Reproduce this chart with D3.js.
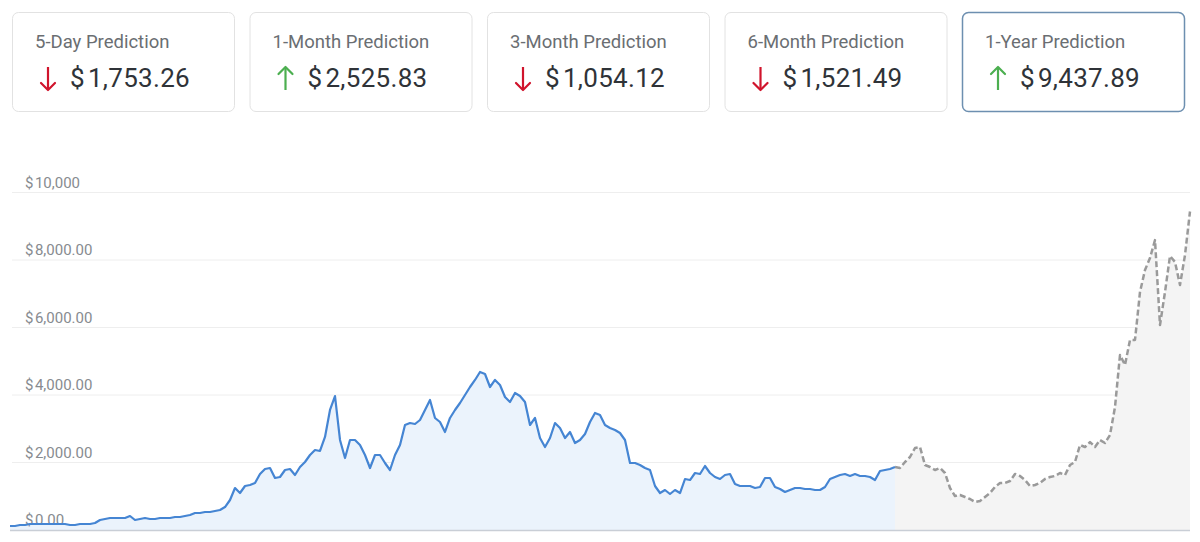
<!DOCTYPE html>
<html>
<head>
<meta charset="utf-8">
<script src="https://cdn.jsdelivr.net/npm/d3@7/dist/d3.min.js"></script>
<style>
  html, body { margin: 0; padding: 0; background: #ffffff; }
  svg { display: block; font-family: Roboto, "Noto Sans", Arial, sans-serif; }
</style>
</head>
<body>
<svg id="chart" width="1200" height="542"></svg>
<script>
// ---- Data ----
const cardTitles = ["5-Day Prediction", "1-Month Prediction", "3-Month Prediction", "6-Month Prediction", "1-Year Prediction"];
const cardValues = ["$1,753.26", "$2,525.83", "$1,054.12", "$1,521.49", "$9,437.89"];
const cardDirections = ["down", "up", "down", "down", "up"];

const tickValues = [10000, 8000, 6000, 4000, 2000, 0];
const tickLabels = ["$10,000", "$8,000.00", "$6,000.00", "$4,000.00", "$2,000.00", "$0.00"];

const history = [
  119,119,148,148,
  178,178,178,178,178,178,178,178,
  148,148,
  178,178,178,
  207,
  296,326,356,356,356,356,
  415,296,326,356,326,326,
  356,356,356,385,385,415,
  444,504,504,533,533,563,
  593,681,889,1244,1096,1304,
  1333,1393,1659,1807,1837,1541,
  1570,1778,1807,1630,1867,2015,
  2222,2370,2341,2756,3556,3970,
  2667,2133,2667,2667,2519,2222,
  1837,2222,2222,1985,1778,2222,
  2519,3111,3170,3141,3259,3556,
  3852,3319,3200,2904,3319,3556,
  3763,4000,4237,4445,4682,4622,
  4237,4445,4296,3941,3793,4059,
  3970,3793,3111,3319,2726,2459,
  2726,3170,3022,2726,2904,2578,
  2667,2844,3200,3467,3407,3111,
  3022,2963,2874,2667,1985,1985,
  1926,1837,1778,1304,1096,1185,
  1067,1185,1096,1511,1481,1689,
  1659,1896,1689,1570,1511,1630,
  1659,1363,1304,1304,1304,1244,
  1274,1541,1541,1274,1215,1126,
  1185,1244,1244,1215,1215,1185,
  1185,1274,1511,1570,1630,1659,
  1600,1659,1600,1600,1570,1481,
  1748,1778,1807,1867
];

const forecast = [
  1837,2015,2163,2430,2459,1926,
  1867,1778,1837,1689,1244,1007,
  1037,978,919,830,859,978,
  1096,1274,1393,1393,1452,1659,
  1600,1481,1304,1333,1393,1511,
  1570,1600,1689,1630,1926,2015,
  2519,2459,2607,2459,2667,2578,
  2815,3644,5185,4889,5630,5630,
  7052,7704,8059,8590,6074,7052,
  8119,7941,7259,8148,9437
];

// ---- Layout ----
const svg = d3.select("#chart");
const plotLeft = 10, plotRight = 1190, plotTop = 192.5, plotBottom = 530;

// Cards
const cardW = 222, cardH = 99, cardTop = 12;
const cardX = d3.scaleLinear().domain([0, 4]).range([12, 962]);
const cards = svg.append("g").selectAll("g").data(cardTitles).join("g")
  .attr("transform", (d, i) => `translate(${cardX(i)},${cardTop})`);

cards.append("rect")
  .attr("x", 0.5).attr("y", 0.5)
  .attr("width", cardW).attr("height", cardH)
  .attr("rx", 6).attr("ry", 6)
  .attr("fill", "#ffffff")
  .attr("stroke", (d, i) => i === 4 ? "#6d8fb0" : "#e2e2e2")
  .attr("stroke-width", (d, i) => i === 4 ? 1.5 : 1);

cards.append("text")
  .attr("x", 23).attr("y", 36)
  .attr("font-size", 18.5).attr("fill", "#6a6e72")
  .text(d => d);

const vt = cards.append("text")
  .attr("x", 58).attr("y", 75)
  .attr("font-size", 26).attr("fill", "#2f3338")
  .attr("letter-spacing", 0.3);
vt.append("tspan").text((d, i) => cardValues[i].slice(0, 1));
vt.append("tspan").attr("dx", 3).text((d, i) => cardValues[i].slice(1));

// Arrows
cards.each(function (d, i) {
  const g = d3.select(this);
  const up = cardDirections[i] === "up";
  const col = up ? "#4caf50" : "#d0142c";
  const ax = 36, top = 55, bot = 78;
  g.append("line").attr("x1", ax).attr("x2", ax).attr("y1", top).attr("y2", bot)
    .attr("stroke", col).attr("stroke-width", 2.2);
  const tip = up ? top : bot;
  const dir = up ? 1 : -1;
  g.append("path")
    .attr("d", `M${ax - 7},${tip + dir * 7} L${ax},${tip} L${ax + 7},${tip + dir * 7}`)
    .attr("fill", "none").attr("stroke", col).attr("stroke-width", 2.2)
    .attr("stroke-linecap", "round").attr("stroke-linejoin", "round");
});

// Scales
const totalN = history.length + forecast.length;
const x = d3.scaleLinear().domain([0, totalN - 1]).range([plotLeft, plotRight]);
const y = d3.scaleLinear().domain([0, 10000]).range([plotBottom, plotTop]);

// Grid
const grid = svg.append("g");
grid.selectAll("line").data(tickValues.filter(v => v > 0)).join("line")
  .attr("x1", plotLeft + 2).attr("x2", plotRight)
  .attr("y1", d => y(d)).attr("y2", d => y(d))
  .attr("stroke", "#eeeeee").attr("stroke-width", 1);

// Data points
const histPts = history.map((v, i) => ({ i, v }));
const fcPts = [{ i: history.length - 1, v: history[history.length - 1] }]
  .concat(forecast.map((v, k) => ({ i: history.length + k, v })));

const area = d3.area().x(d => x(d.i)).y0(y(0)).y1(d => y(d.v));
const line = d3.line().x(d => x(d.i)).y(d => y(d.v));

svg.append("path").datum(fcPts).attr("d", area).attr("fill", "#f4f4f4");
svg.append("path").datum(histPts).attr("d", area).attr("fill", "#ebf3fc");

// Axis labels
const lab = svg.append("g").selectAll("text").data(tickValues).join("text")
  .attr("x", 25).attr("y", d => y(d) - 5)
  .attr("font-size", 15).attr("fill", "#878b90");
lab.append("tspan").text((d, i) => tickLabels[i].slice(0, 1));
lab.append("tspan").attr("dx", 1.5).text((d, i) => tickLabels[i].slice(1));

// Baseline
svg.append("line")
  .attr("x1", plotLeft).attr("x2", plotRight)
  .attr("y1", plotBottom + 0.5).attr("y2", plotBottom + 0.5)
  .attr("stroke", "#c9ced6").attr("stroke-width", 1.5);

// Lines
svg.append("path").datum(fcPts).attr("d", line)
  .attr("fill", "none").attr("stroke", "#9a9a9a")
  .attr("stroke-width", 2.5).attr("stroke-dasharray", "6,3")
  .attr("stroke-linejoin", "round");
svg.append("path").datum(histPts).attr("d", line)
  .attr("fill", "none").attr("stroke", "#4585d3")
  .attr("stroke-width", 2.2).attr("stroke-linejoin", "round");
</script>
</body>
</html>
